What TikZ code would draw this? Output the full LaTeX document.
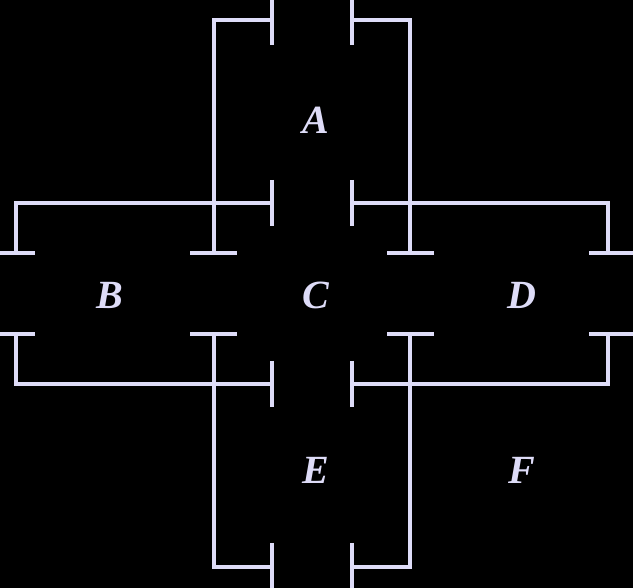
\documentclass[tikz,border=0pt]{standalone}
\usepackage{fontspec}
\setmainfont{Liberation Serif}
\begin{document}
\begin{tikzpicture}[x=1pt,y=-1pt,
  wire/.style={draw=lav,line width=3.2pt},
  lbl/.style={text=lav,font=\fontsize{40}{40}\selectfont\bfseries\itshape}]
\definecolor{lav}{RGB}{222,220,248}
\fill[black] (0,0) rectangle (633,588);
\useasboundingbox (0,0) rectangle (633,588);
\foreach \s/\o in {1/0, -1/624}{
 \begin{scope}[xshift=\o pt, xscale=\s]
  \draw[wire] (272,0)--(272,45);
  \draw[wire] (272,20)--(214,20)--(214,253);
  \draw[wire] (190,253)--(237,253);
  \draw[wire] (272,543)--(272,588);
  \draw[wire] (272,567)--(214,567)--(214,334);
  \draw[wire] (190,334)--(237,334);
  \draw[wire] (272,180)--(272,226);
  \draw[wire] (272,203)--(16,203)--(16,253);
  \draw[wire] (-9,253)--(35,253);
  \draw[wire] (272,361)--(272,407);
  \draw[wire] (272,384)--(16,384)--(16,334);
  \draw[wire] (-9,334)--(35,334);
 \end{scope}}
\node[lbl] (A) at (316,120) {A};
\node[lbl] (B) at (110,295) {B};
\node[lbl] (C) at (316,295) {C};
\node[lbl] (D) at (522,295) {D};
\node[lbl] (E) at (316,470) {E};
\node[lbl] (F) at (522,470) {F};
\end{tikzpicture}
\end{document}
